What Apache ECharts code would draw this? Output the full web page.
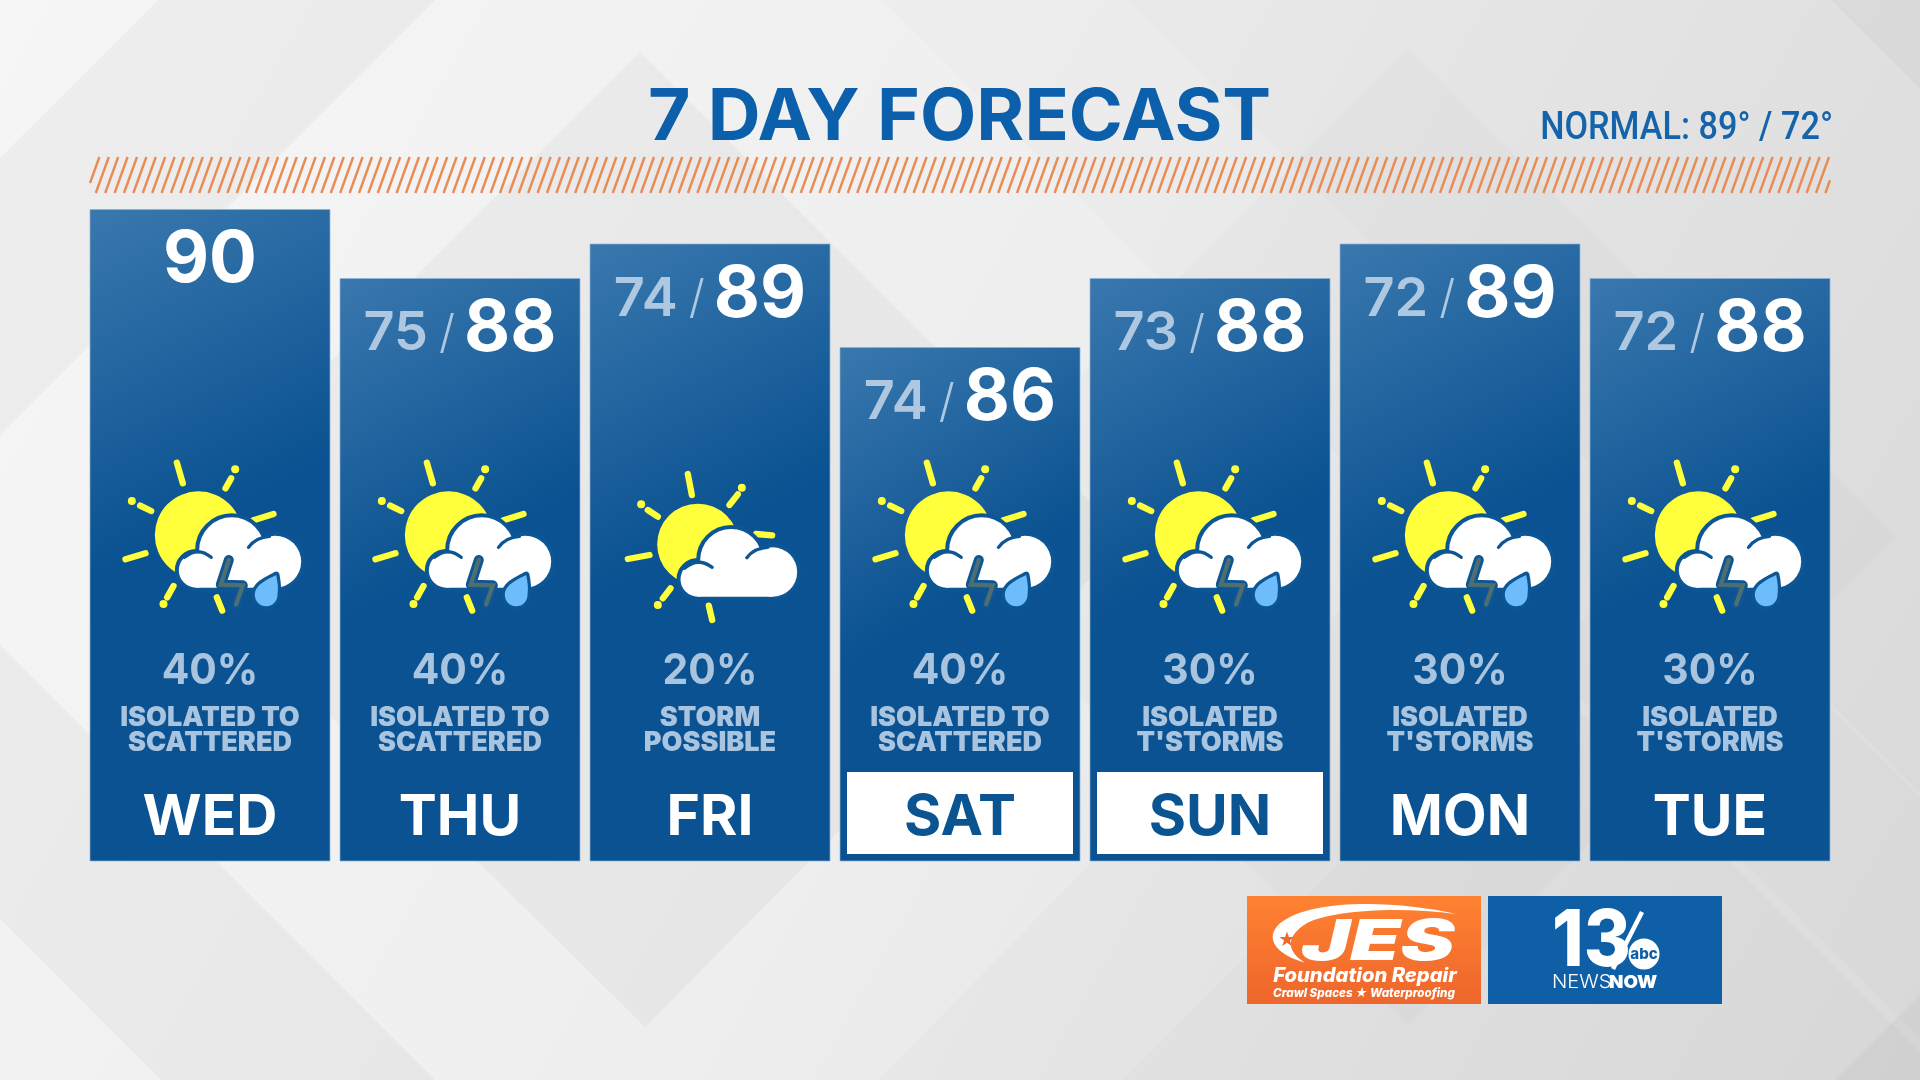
<!DOCTYPE html>
<html>

<head>
    <meta charset="utf-8">
    <title>7 Day Forecast</title>
    <script src="https://cdn.jsdelivr.net/npm/echarts@6/dist/echarts.min.js"></script>
    <style>
        html, body { margin: 0; padding: 0; background: #eee; }
        #main { width: 1920px; height: 1080px; }
    </style>
</head>

<body>
    <div id="main"></div>
    <script>
        var days = ['WED', 'THU', 'FRI', 'SAT', 'SUN', 'MON', 'TUE'];
        var highs = [90, 88, 89, 86, 88, 89, 88];
        var lows = [null, 75, 74, 74, 73, 72, 72];
        var rainChance = ['40%', '40%', '20%', '40%', '30%', '30%', '30%'];
        var outlookTop = ['ISOLATED TO', 'ISOLATED TO', 'STORM', 'ISOLATED TO', 'ISOLATED', 'ISOLATED', 'ISOLATED'];
        var outlookBottom = ['SCATTERED', 'SCATTERED', 'POSSIBLE', 'SCATTERED', "T'STORMS", "T'STORMS", "T'STORMS"];
        var icons = ['storm', 'storm', 'cloud', 'storm', 'storm', 'storm', 'storm'];
        var weekend = ['SAT', 'SUN'];

        var FONT = 'Inter, "Noto Sans", sans-serif';
        var BLUE = '#0b5492';
        var PALE = '#a9c4df';
        var YELLOW = '#ffff3c';
        var GAP = '#0d5695';

        echarts.graphic.registerShape('swoosh', echarts.graphic.extendPath(
            'M678,102 C500,60 240,55 150,130 C100,175 140,225 225,248 C170,215 165,170 230,130 C300,92 500,78 678,102 Z', {}
        ));

        var myChart = echarts.init(document.getElementById('main'));

        // ---- icons, drawn in units of 1/3 px ----
        function ray(x1, y1, x2, y2) {
            return {
                type: 'line',
                shape: { x1: x1, y1: y1, x2: x2, y2: y2 },
                style: { stroke: YELLOW, lineWidth: 19, lineCap: 'round', fill: null }
            };
        }

        function dot(x, y) {
            return { type: 'circle', shape: { cx: x, cy: y, r: 12 }, style: { fill: YELLOW } };
        }

        function arc(d) {
            return {
                type: 'path',
                shape: { pathData: d },
                style: { fill: null, stroke: GAP, lineWidth: 10, lineCap: 'round' }
            };
        }

        // three lobes and a flat bottom, first in the gap colour then in white
        function cloud(c) {
            var parts = [];
            [[GAP, 24], ['#fff', 0]].forEach(function (p) {
                c.forEach(function (l) {
                    parts.push({
                        type: 'circle',
                        shape: { cx: l[0], cy: l[1], r: l[2] },
                        style: { fill: p[0], stroke: p[0], lineWidth: p[1] }
                    });
                });
                parts.push({
                    type: 'rect',
                    shape: { x: c[0][0], y: c[2][1], width: c[2][0] - c[0][0], height: c[0][1] + c[0][2] - c[2][1] },
                    style: { fill: p[0], stroke: p[0], lineWidth: p[1] }
                });
            });
            return parts;
        }

        function stormIcon() {
            var drop = 'M530,405 C536,435 536,445 534,465 A34,34 0 1 1 466,465 C466,435 500,420 530,405 Z';
            var bolt = [[388, 360], [364, 434], [430, 436], [410, 493]];
            var parts = [
                ray(232, 68, 250, 130), ray(378, 145, 395, 115), dot(407, 88),
                ray(462, 241, 522, 222), ray(155, 213, 122, 197), dot(97, 183),
                ray(78, 358, 138, 340), ray(222, 438, 203, 472), dot(192, 492),
                ray(352, 472, 368, 512),
                { type: 'circle', shape: { cx: 297, cy: 285, r: 131 }, style: { fill: YELLOW } }
            ];
            parts = parts.concat(cloud([[290, 391, 52], [397, 330, 98], [527, 365, 78]]));
            parts.push(arc('M255,352 Q295,318 335,352'));
            parts.push(arc('M447,322 Q468,292 510,289'));
            parts.push({
                type: 'polyline',
                shape: { points: bolt },
                style: { fill: null, stroke: GAP, lineWidth: 30, lineJoin: 'round', lineCap: 'round' }
            });
            parts.push({
                type: 'polyline',
                shape: { points: bolt },
                style: { fill: null, stroke: '#4e6e70', lineWidth: 13, lineJoin: 'miter', lineCap: 'round' }
            });
            parts.push({
                type: 'path',
                shape: { pathData: drop },
                style: { fill: GAP, stroke: GAP, lineWidth: 20, lineJoin: 'round' }
            });
            parts.push({
                type: 'path',
                shape: { pathData: drop },
                style: { fill: '#6dbcfb' }
            });
            return parts;
        }

        function cloudIcon() {
            var parts = [
                ray(235, 42, 247, 105), ray(360, 135, 385, 103), dot(397, 83),
                ray(440, 222, 488, 226), ray(145, 170, 115, 150), dot(95, 133),
                ray(55, 297, 120, 285), ray(183, 385, 160, 415), dot(145, 435),
                ray(298, 437, 308, 480),
                { type: 'circle', shape: { cx: 265, cy: 253, r: 122 }, style: { fill: YELLOW } }
            ];
            parts = parts.concat(cloud([[265, 358, 52], [365, 300, 93], [489, 336, 74]]));
            parts.push(arc('M225,325 Q265,290 308,322'));
            parts.push(arc('M412,293 Q433,264 475,262'));
            return parts;
        }

        // ---- lower part of every panel ----
        function renderPanel(params, api) {
            var i = api.value(0);
            var cx = api.coord([i, 80])[0];
            var isCloud = icons[i] === 'cloud';
            var highlighted = weekend.indexOf(days[i]) >= 0;
            var children = [];

            children.push({
                type: 'group',
                x: isCloud ? cx - 100.5 : cx - 110.5,
                y: isCloud ? 460 : 440,
                scaleX: 1 / 3,
                scaleY: 1 / 3,
                children: isCloud ? cloudIcon() : stormIcon()
            });
            children.push({
                type: 'text', x: cx, y: 671, scaleX: 0.95,
                style: { text: rainChance[i], fill: PALE, align: 'center', verticalAlign: 'middle', font: '700 43px ' + FONT }
            });
            children.push({
                type: 'text', x: cx, y: 718,
                style: { text: outlookTop[i], fill: PALE, align: 'center', verticalAlign: 'middle', font: '900 27px ' + FONT }
            });
            children.push({
                type: 'text', x: cx, y: 743,
                style: { text: outlookBottom[i], fill: PALE, align: 'center', verticalAlign: 'middle', font: '900 27px ' + FONT }
            });
            if (highlighted) {
                children.push({
                    type: 'rect',
                    shape: { x: cx - 113, y: 772, width: 226, height: 82 },
                    style: { fill: '#fff' }
                });
            }
            children.push({
                type: 'text', x: cx, y: 818,
                style: { text: days[i], fill: highlighted ? BLUE : '#fff', align: 'center', verticalAlign: 'middle', font: '700 57px ' + FONT }
            });
            return { type: 'group', children: children };
        }

        // ---- backdrop, stripes and logos ----
        function backdrop() {
            var shade = function (points, alpha) {
                return {
                    type: 'polygon', z: -5, silent: true,
                    shape: { points: points },
                    style: { fill: 'rgba(0,0,0,' + alpha + ')' }
                };
            };
            return [
                {
                    type: 'rect', z: -6, silent: true,
                    shape: { x: 0, y: 0, width: 1920, height: 1080 },
                    style: {
                        fill: {
                            type: 'linear', x: 0, y: 0, x2: 1, y2: 1,
                            colorStops: [{ offset: 0, color: '#f6f6f6' }, { offset: 0.5, color: '#eeeeee' }, { offset: 1, color: '#dedede' }]
                        }
                    }
                },
                shade([[0, 158], [158, 0], [435, 0], [0, 435]], 0.03),
                shade([[0, 645], [0, 919], [161, 1080], [435, 1080]], 0.03),
                shade([[640, 52], [152, 540], [645, 1027], [1128, 540]], 0.03),
                shade([[882, 0], [1920, 0], [1920, 1038]], 0.01),
                shade([[1127, 0], [1920, 0], [1920, 793]], 0.01),
                shade([[1408, 49], [1896, 537], [1408, 1025], [920, 537]], 0.015),
                shade([[1408, 540], [1948, 1080], [878, 1080]], 0.015),
                shade([[1663, 540], [2203, 1080], [1123, 1080]], 0.012),
                shade([[1831, 0], [1920, 0], [1920, 89]], 0.025),
                shade([[1835, 1080], [1920, 995], [1920, 1080]], 0.03)
            ];
        }

        function stripes() {
            var left = 90, right = 1830, top = 157, bottom = 193, lean = 13, items = [];
            for (var x = left - lean; x < right; x += 9.4) {
                var x1 = x, y1 = bottom, x2 = x + lean, y2 = top;
                if (x1 < left) {
                    y1 = bottom - (left - x1) / lean * (bottom - top);
                    x1 = left;
                }
                if (x2 > right) {
                    y2 = top + (x2 - right) / lean * (bottom - top);
                    x2 = right;
                }
                items.push({
                    type: 'line', silent: true,
                    shape: { x1: x1, y1: y1, x2: x2, y2: y2 },
                    style: { stroke: '#e98b52', lineWidth: 2.4 }
                });
            }
            return items;
        }

        function label(text, x, y, font, fill, align, scaleX) {
            return {
                type: 'text', silent: true, x: x, y: y, scaleX: scaleX || 1,
                style: { text: text, font: font, fill: fill, align: align || 'left', verticalAlign: 'middle' }
            };
        }

        function logos() {
            return [
                {
                    type: 'rect', silent: true,
                    shape: { x: 1247, y: 896, width: 234, height: 108 },
                    style: {
                        fill: {
                            type: 'linear', x: 0, y: 0, x2: 0, y2: 1,
                            colorStops: [{ offset: 0, color: '#ff8231' }, { offset: 1, color: '#ee662c' }]
                        }
                    }
                },
                {
                    type: 'swoosh', silent: true, x: 1230, y: 880, scaleX: 1 / 3, scaleY: 1 / 3,
                    style: { fill: '#fff' }
                },
                label('★', 1287, 941, '20px "DejaVu Sans"', '#f0692c', 'center'),
                label('JES', 1378, 943, 'italic 900 56px ' + FONT, '#fff', 'center', 1.45),
                label('Foundation Repair', 1365, 976, 'italic 800 20px ' + FONT, '#fff', 'center', 1.01),
                label('Crawl Spaces ★ Waterproofing', 1364, 993, 'italic 800 12px ' + FONT, '#fff', 'center', 0.97),
                {
                    type: 'rect', silent: true,
                    shape: { x: 1488, y: 896, width: 234, height: 108 },
                    style: { fill: '#0f5fa6' }
                },
                label('13', 1552, 943, '800 78px ' + FONT, '#fff', 'left', 0.92),
                {
                    type: 'line', silent: true,
                    shape: { x1: 1642, y1: 912, x2: 1613, y2: 969 },
                    style: { stroke: '#fff', lineWidth: 4.5 }
                },
                {
                    type: 'circle', silent: true,
                    shape: { cx: 1644, cy: 954, r: 15.5 },
                    style: { fill: '#fff' }
                },
                label('abc', 1644, 954, '800 15px ' + FONT, '#0f5fa6', 'center'),
                label('NEWS', 1552, 983, '300 18px ' + FONT, '#fff', 'left', 1.12),
                label('NOW', 1609, 983, '900 18px ' + FONT, '#fff', 'left', 1.04)
            ];
        }

        var option = {
            animation: false,
            graphic: {
                elements: backdrop().concat(stripes(), [
                    label('7 DAY FORECAST', 959.5, 119, '700 71px ' + FONT, '#0b5fab', 'center', 1.03),
                    label('NORMAL: 89° / 72°', 1833, 129, '500 39px Roboto', '#1563ab', 'right', 0.878)
                ], logos())
            },
            grid: { left: 85, top: 209, width: 1750, height: 652 },
            xAxis: { type: 'category', data: days, show: false },
            yAxis: { type: 'value', min: 71.1, max: 90, show: false },
            series: [
                {
                    name: 'High',
                    type: 'bar',
                    data: highs,
                    barWidth: 241,
                    itemStyle: {
                        borderColor: 'rgba(140,180,215,0.7)',
                        borderWidth: 1,
                        color: {
                            type: 'linear', x: 0, y: 0, x2: 0.6, y2: 0.45,
                            colorStops: [{ offset: 0, color: '#3a78ae' }, { offset: 1, color: '#0a5291' }]
                        }
                    },
                    label: {
                        show: true,
                        position: 'insideTop',
                        distance: 14,
                        formatter: function (p) {
                            var low = lows[p.dataIndex];
                            if (low === null) {
                                return '{hi|' + p.value + '}';
                            }
                            return '{lo|' + low + '}{sl|/}{hi|' + p.value + '}';
                        },
                        rich: {
                            hi: { color: '#fff', fontFamily: FONT, fontWeight: 700, fontSize: 71, lineHeight: 76 },
                            lo: { color: '#aec8e1', fontFamily: FONT, fontWeight: 600, fontSize: 54, height: 68, lineHeight: 68, verticalAlign: 'bottom' },
                            sl: { color: '#aec8e1', fontFamily: FONT, fontWeight: 300, fontSize: 46, height: 68, lineHeight: 68, verticalAlign: 'bottom', padding: [0, 9, 0, 11] }
                        }
                    }
                },
                {
                    name: 'Panel',
                    type: 'custom',
                    data: days.map(function (d, i) { return [i]; }),
                    encode: { x: 0 },
                    z: 5,
                    silent: true,
                    renderItem: renderPanel
                }
            ]
        };

        myChart.setOption(option);
    </script>
</body>

</html>
